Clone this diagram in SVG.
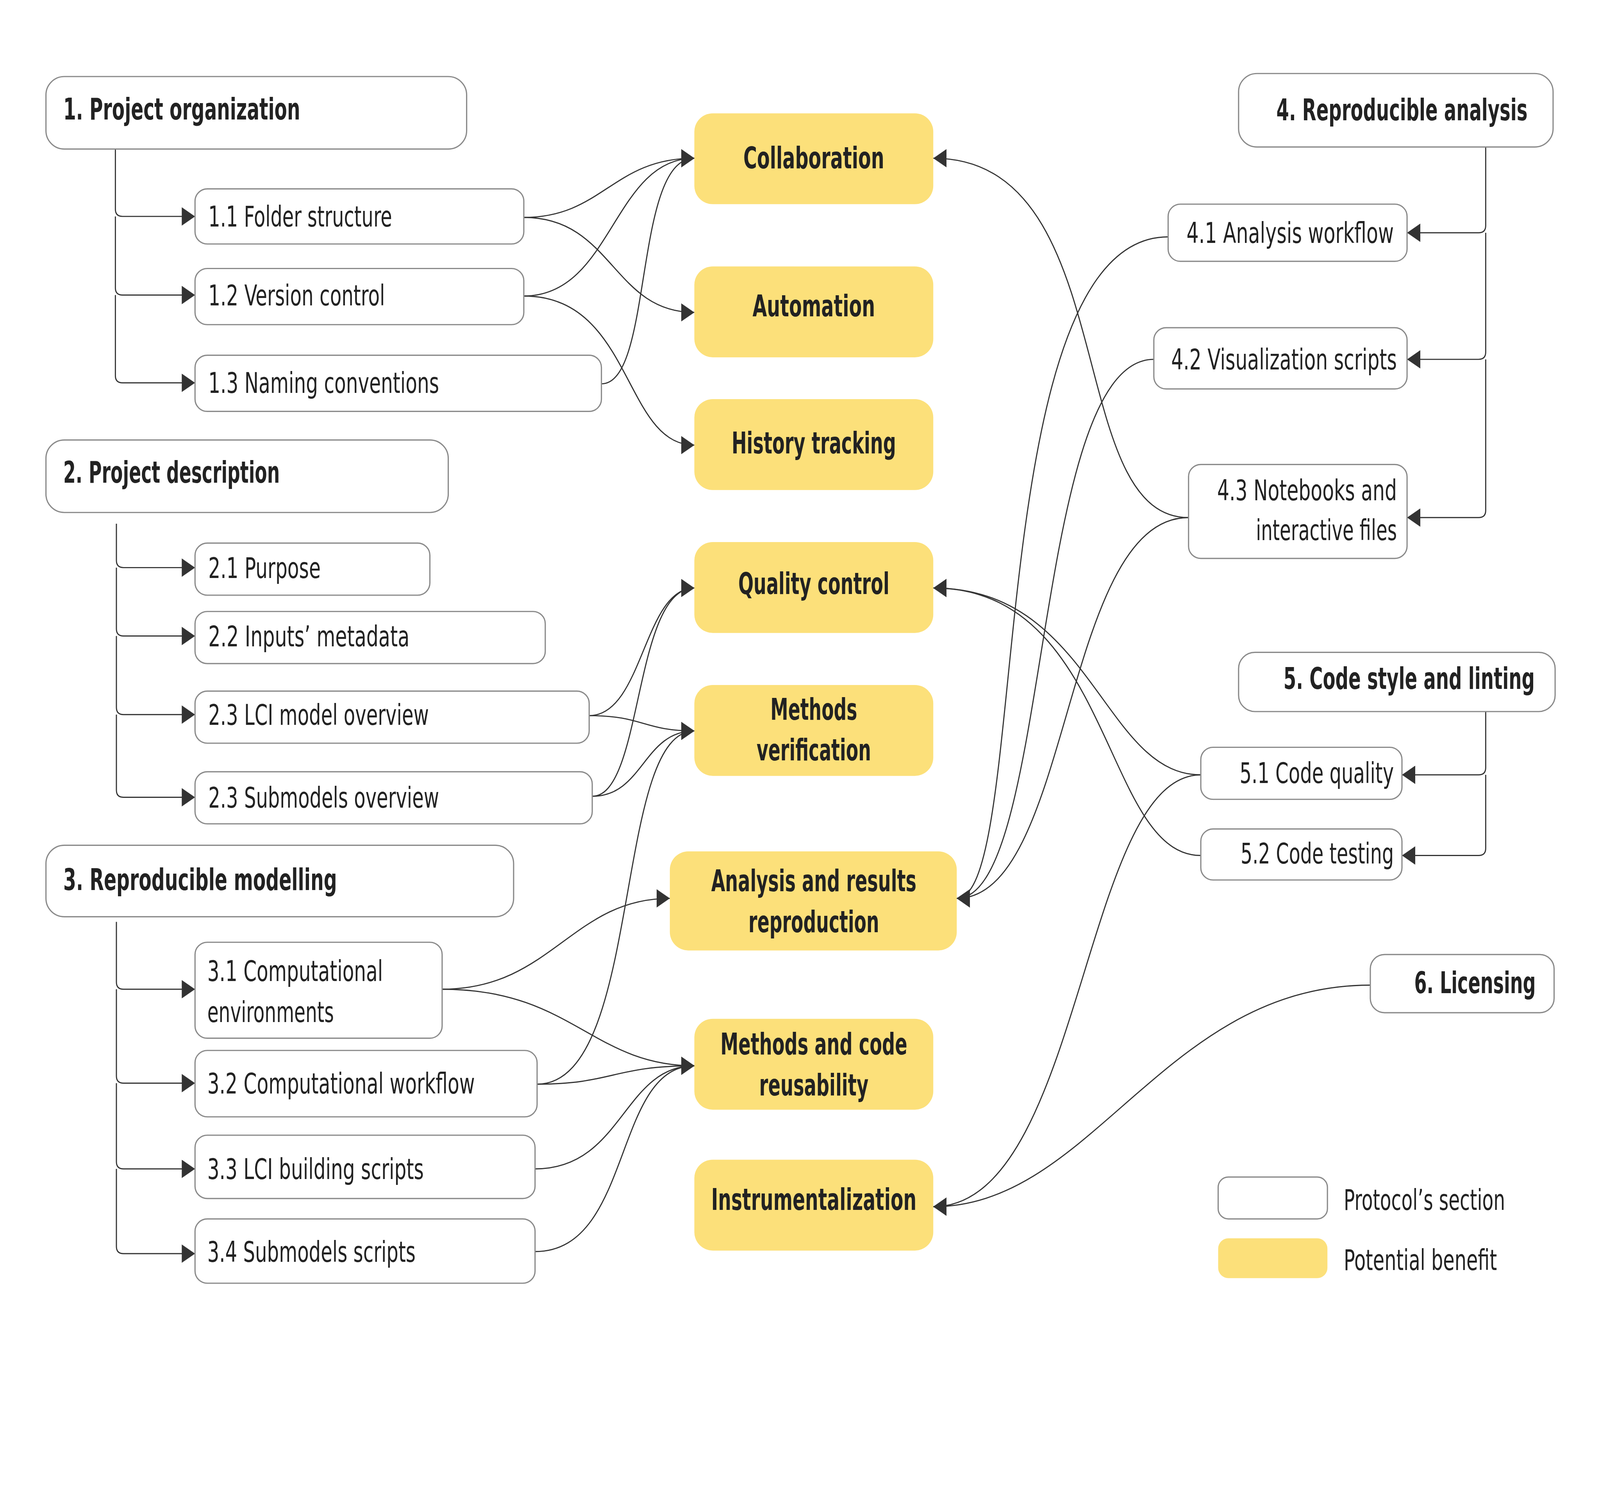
<svg xmlns="http://www.w3.org/2000/svg" width="4335" height="3805" viewBox="0 0 4335 3805">
<defs>
<style>
.sec{fill:#fff;stroke:#8a8a8a;stroke-width:1.2}
.ben{fill:#fce07a}
.c{fill:none;stroke:#333;stroke-width:1.1}
.h{font-family:"DejaVu Sans Condensed","DejaVu Sans",sans-serif;font-size:29px;font-weight:bold;fill:#222}
.s{font-family:"DejaVu Sans Condensed","DejaVu Sans",sans-serif;font-size:28px;font-weight:300;fill:#222}
.b{font-family:"DejaVu Sans Condensed","DejaVu Sans",sans-serif;font-size:29px;font-weight:bold;fill:#222;text-anchor:middle}
</style>
<marker id="a" markerUnits="userSpaceOnUse" markerWidth="14" markerHeight="18" refX="13" refY="9" orient="auto"><path d="M0,0 L13,9 L0,18 z" fill="#333"/></marker>
</defs>
<rect width="4335" height="3805" fill="#fff"/>
<g transform="scale(2.614)">
<g id="connectors" marker-end="url(#a)">
<path class="c" d="M113,146 V205 Q113,212 120,212 H191"/>
<path class="c" d="M113,212 V282 Q113,289 120,289 H191"/>
<path class="c" d="M113,289 V368 Q113,375 120,375 H191"/>
<path class="c" d="M114,513 V549 Q114,556 121,556 H191"/>
<path class="c" d="M114,556 V616 Q114,623 121,623 H191"/>
<path class="c" d="M114,623 V693 Q114,700 121,700 H191"/>
<path class="c" d="M114,700 V774 Q114,781 121,781 H191"/>
<path class="c" d="M114,903 V962 Q114,969 121,969 H191"/>
<path class="c" d="M114,969 V1054 Q114,1061 121,1061 H191"/>
<path class="c" d="M114,1061 V1138 Q114,1145 121,1145 H191"/>
<path class="c" d="M114,1145 V1221 Q114,1228 121,1228 H191"/>
<path class="c" d="M1455,144 V221 Q1455,228 1448,228 H1378"/>
<path class="c" d="M1455,228 V345 Q1455,352 1448,352 H1378"/>
<path class="c" d="M1455,352 V500 Q1455,507 1448,507 H1378"/>
<path class="c" d="M1455,697 V752 Q1455,759 1448,759 H1373"/>
<path class="c" d="M1455,759 V831 Q1455,838 1448,838 H1373"/>
<path class="c" d="M513,213 C590,213 600,155 680,155"/>
<path class="c" d="M513,213 C600,213 600,306 680,306"/>
<path class="c" d="M513,290 C600,290 600,155 680,155"/>
<path class="c" d="M513,290 C620,290 610,436 680,436"/>
<path class="c" d="M589,376 C640,376 620,155 680,155"/>
<path class="c" d="M577,701 C630,701 630,576 680,576"/>
<path class="c" d="M577,701 C630,701 630,716 680,716"/>
<path class="c" d="M580,780 C630,780 620,576 680,576"/>
<path class="c" d="M580,780 C630,780 630,716 680,716"/>
<path class="c" d="M433,969 C540,969 560,880 656,880"/>
<path class="c" d="M433,969 C560,969 580,1044 680,1044"/>
<path class="c" d="M526,1062 C600,1062 600,1044 680,1044"/>
<path class="c" d="M526,1062 C630,1062 600,716 680,716"/>
<path class="c" d="M524,1145 C610,1145 610,1044 680,1044"/>
<path class="c" d="M524,1226 C620,1226 600,1044 680,1044"/>
<path class="c" d="M1144,232 C960,232 1010,880 937,880"/>
<path class="c" d="M1130,352 C1010,352 1030,880 937,880"/>
<path class="c" d="M1164,507 C1040,507 1100,155 914,155"/>
<path class="c" d="M1164,507 C1040,507 1050,880 937,880"/>
<path class="c" d="M1176,759 C1080,759 1070,576 914,576"/>
<path class="c" d="M1176,838 C1080,838 1090,576 914,576"/>
<path class="c" d="M1176,759 C1060,759 1060,1182 914,1182"/>
<path class="c" d="M1342,965 C1140,965 1070,1182 914,1182"/>
</g>
<g id="n1"><rect class="sec" x="45" y="75" width="412" height="71" rx="18"/><text class="h" x="62" y="117" textLength="232" lengthAdjust="spacingAndGlyphs">1. Project organization</text></g>
<g id="n11"><rect class="sec" x="191" y="185" width="322" height="54" rx="12"/><text class="s" x="204" y="222" textLength="180" lengthAdjust="spacingAndGlyphs">1.1 Folder structure</text></g>
<g id="n12"><rect class="sec" x="191" y="263" width="322" height="55" rx="12"/><text class="s" x="204" y="299" textLength="173" lengthAdjust="spacingAndGlyphs">1.2 Version control</text></g>
<g id="n13"><rect class="sec" x="191" y="348" width="398" height="55" rx="12"/><text class="s" x="204" y="385" textLength="226" lengthAdjust="spacingAndGlyphs">1.3 Naming conventions</text></g>
<g id="n2"><rect class="sec" x="45" y="431" width="394" height="71" rx="18"/><text class="h" x="62" y="473" textLength="212" lengthAdjust="spacingAndGlyphs">2. Project description</text></g>
<g id="n21"><rect class="sec" x="191" y="532" width="230" height="51" rx="12"/><text class="s" x="204" y="566" textLength="110" lengthAdjust="spacingAndGlyphs">2.1 Purpose</text></g>
<g id="n22"><rect class="sec" x="191" y="599" width="343" height="51" rx="12"/><text class="s" x="204" y="633" textLength="197" lengthAdjust="spacingAndGlyphs">2.2 Inputs’ metadata</text></g>
<g id="n23"><rect class="sec" x="191" y="677" width="386" height="51" rx="12"/><text class="s" x="204" y="710" textLength="216" lengthAdjust="spacingAndGlyphs">2.3 LCI model overview</text></g>
<g id="n23b"><rect class="sec" x="191" y="756" width="389" height="51" rx="12"/><text class="s" x="204" y="791" textLength="226" lengthAdjust="spacingAndGlyphs">2.3 Submodels overview</text></g>
<g id="n3"><rect class="sec" x="45" y="828" width="458" height="70" rx="18"/><text class="h" x="62" y="872" textLength="268" lengthAdjust="spacingAndGlyphs">3. Reproducible modelling</text></g>
<g id="n31"><rect class="sec" x="191" y="923" width="242" height="94" rx="12"/><text class="s" x="203" y="961" textLength="172" lengthAdjust="spacingAndGlyphs">3.1 Computational</text><text class="s" x="203" y="1001" textLength="124" lengthAdjust="spacingAndGlyphs">environments</text></g>
<g id="n32"><rect class="sec" x="191" y="1029" width="335" height="65" rx="12"/><text class="s" x="203" y="1071" textLength="262" lengthAdjust="spacingAndGlyphs">3.2 Computational workflow</text></g>
<g id="n33"><rect class="sec" x="191" y="1112" width="333" height="62" rx="12"/><text class="s" x="203" y="1155" textLength="212" lengthAdjust="spacingAndGlyphs">3.3 LCI building scripts</text></g>
<g id="n34"><rect class="sec" x="191" y="1194" width="333" height="63" rx="12"/><text class="s" x="203" y="1236" textLength="204" lengthAdjust="spacingAndGlyphs">3.4 Submodels scripts</text></g>
<g id="n4"><rect class="sec" x="1213" y="72" width="308" height="72" rx="18"/><text class="h" x="1250" y="118" textLength="246" lengthAdjust="spacingAndGlyphs">4. Reproducible analysis</text></g>
<g id="n41"><rect class="sec" x="1144" y="200" width="234" height="56" rx="12"/><text class="s" x="1162" y="238" textLength="203" lengthAdjust="spacingAndGlyphs">4.1 Analysis workflow</text></g>
<g id="n42"><rect class="sec" x="1130" y="321" width="248" height="60" rx="12"/><text class="s" x="1147" y="362" textLength="221" lengthAdjust="spacingAndGlyphs">4.2 Visualization scripts</text></g>
<g id="n43"><rect class="sec" x="1164" y="455" width="214" height="92" rx="12"/><text class="s" x="1192" y="490" textLength="176" lengthAdjust="spacingAndGlyphs">4.3 Notebooks and</text><text class="s" x="1230" y="529" textLength="138" lengthAdjust="spacingAndGlyphs">interactive files</text></g>
<g id="n5"><rect class="sec" x="1213" y="639" width="310" height="58" rx="16"/><text class="h" x="1257" y="675" textLength="246" lengthAdjust="spacingAndGlyphs">5. Code style and linting</text></g>
<g id="n51"><rect class="sec" x="1176" y="732" width="197" height="51" rx="12"/><text class="s" x="1214" y="767" textLength="151" lengthAdjust="spacingAndGlyphs">5.1 Code quality</text></g>
<g id="n52"><rect class="sec" x="1176" y="812" width="197" height="50" rx="12"/><text class="s" x="1215" y="846" textLength="150" lengthAdjust="spacingAndGlyphs">5.2 Code testing</text></g>
<g id="n6"><rect class="sec" x="1342" y="935" width="180" height="57" rx="14"/><text class="h" x="1385" y="973" textLength="119" lengthAdjust="spacingAndGlyphs">6. Licensing</text></g>
<g id="b1"><rect class="ben" x="680" y="111" width="234" height="89" rx="18"/><text class="b" x="797" y="165" textLength="138" lengthAdjust="spacingAndGlyphs">Collaboration</text></g>
<g id="b2"><rect class="ben" x="680" y="261" width="234" height="89" rx="18"/><text class="b" x="797" y="310" textLength="120" lengthAdjust="spacingAndGlyphs">Automation</text></g>
<g id="b3"><rect class="ben" x="680" y="391" width="234" height="89" rx="18"/><text class="b" x="797" y="444" textLength="161" lengthAdjust="spacingAndGlyphs">History tracking</text></g>
<g id="b4"><rect class="ben" x="680" y="531" width="234" height="89" rx="18"/><text class="b" x="797" y="582" textLength="148" lengthAdjust="spacingAndGlyphs">Quality control</text></g>
<g id="b5"><rect class="ben" x="680" y="671" width="234" height="89" rx="18"/><text class="b" x="797" y="705" textLength="85" lengthAdjust="spacingAndGlyphs">Methods</text><text class="b" x="797" y="745" textLength="112" lengthAdjust="spacingAndGlyphs">verification</text></g>
<g id="b6"><rect class="ben" x="656" y="834" width="281" height="97" rx="18"/><text class="b" x="797" y="873" textLength="201" lengthAdjust="spacingAndGlyphs">Analysis and results</text><text class="b" x="797" y="913" textLength="128" lengthAdjust="spacingAndGlyphs">reproduction</text></g>
<g id="b7"><rect class="ben" x="680" y="998" width="234" height="89" rx="18"/><text class="b" x="797" y="1033" textLength="183" lengthAdjust="spacingAndGlyphs">Methods and code</text><text class="b" x="797" y="1073" textLength="107" lengthAdjust="spacingAndGlyphs">reusability</text></g>
<g id="b8"><rect class="ben" x="680" y="1136" width="234" height="89" rx="18"/><text class="b" x="797" y="1185" textLength="201" lengthAdjust="spacingAndGlyphs">Instrumentalization</text></g>
<g id="legend"><rect class="sec" x="1193" y="1153" width="107" height="41" rx="10"/><text class="s" x="1316" y="1185" textLength="158" lengthAdjust="spacingAndGlyphs">Protocol’s section</text><rect class="ben" x="1193" y="1213" width="107" height="39" rx="10"/><text class="s" x="1316" y="1244" textLength="150" lengthAdjust="spacingAndGlyphs">Potential benefit</text></g>
</g>
</svg>
